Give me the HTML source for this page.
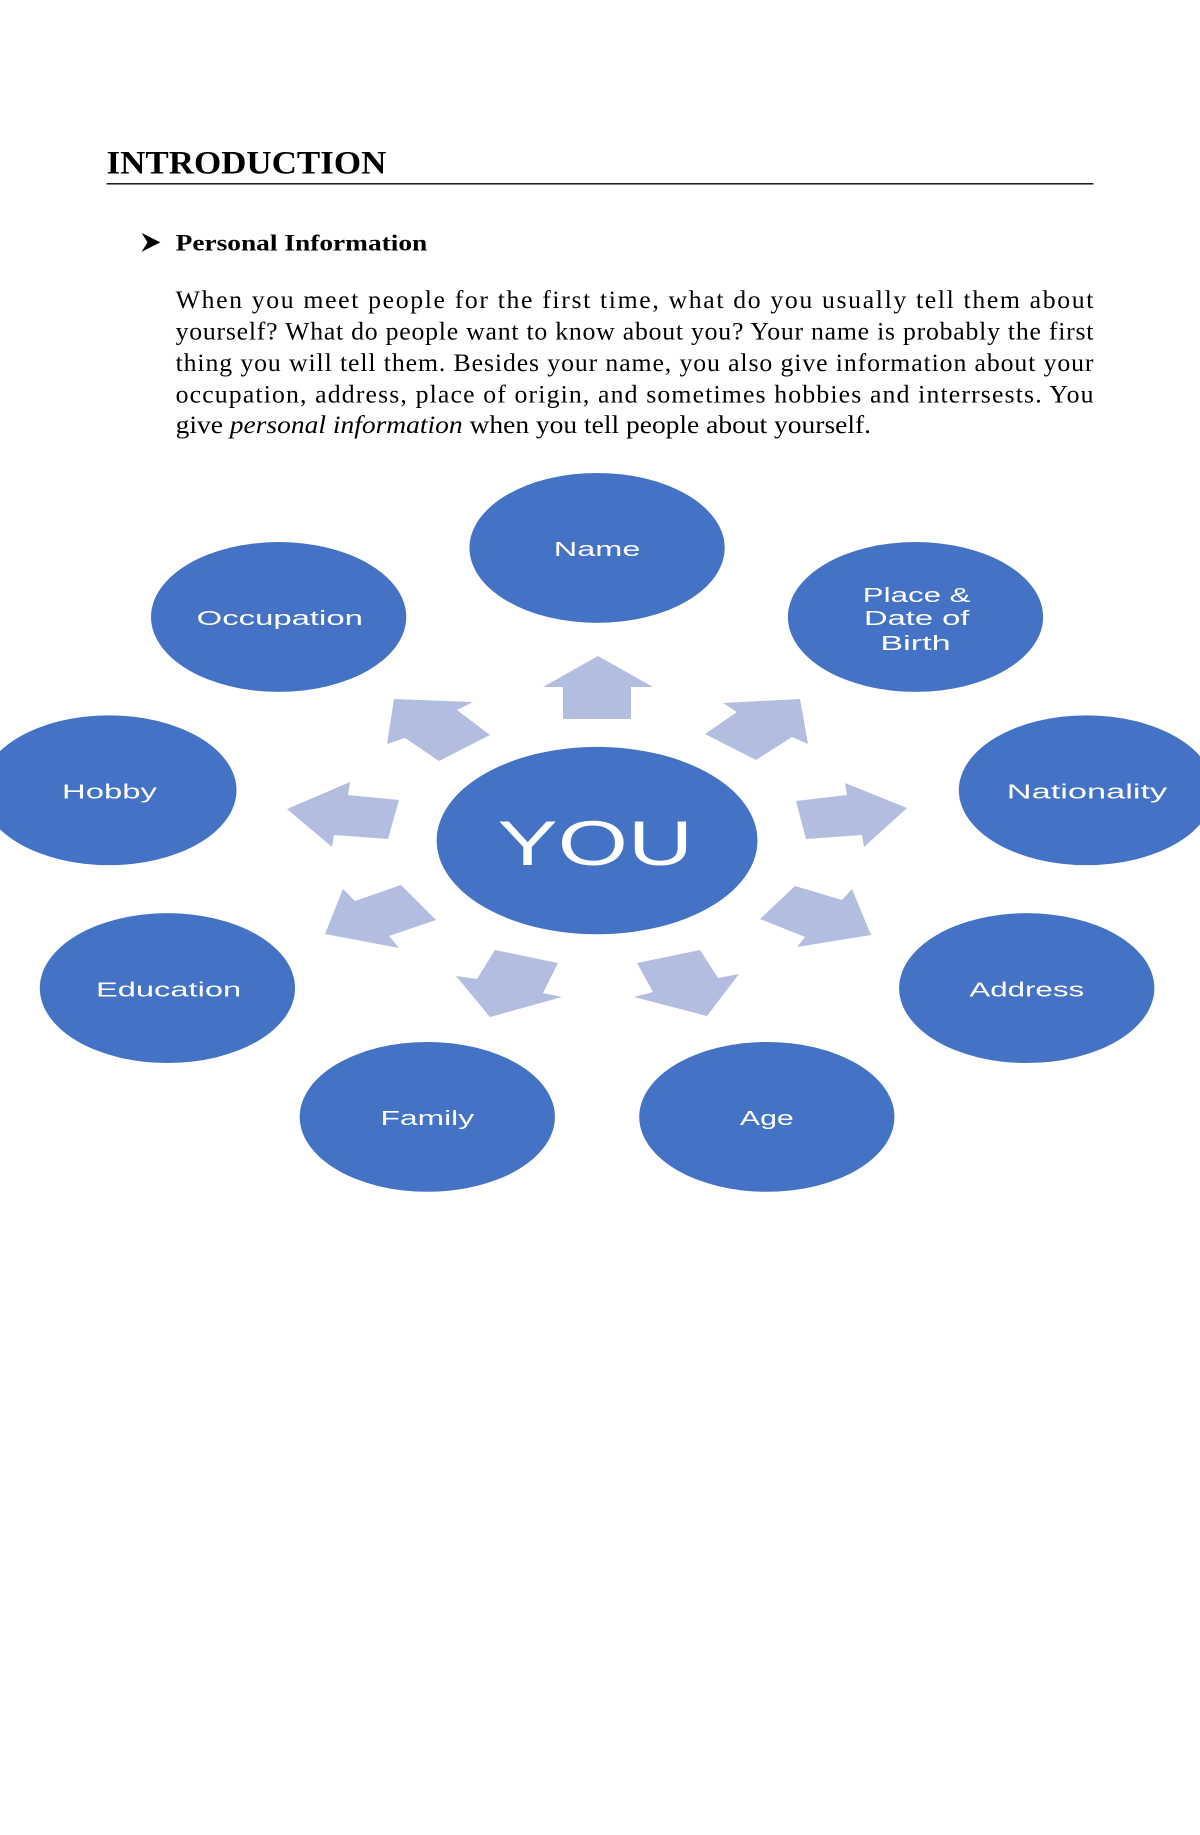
<!DOCTYPE html>
<html><head><meta charset="utf-8"><style>
html,body{margin:0;padding:0;background:#fff;}
svg{display:block;}
</style></head><body>
<svg width="1200" height="1835" viewBox="0 0 1025 1567.4" xmlns="http://www.w3.org/2000/svg">
<text x="91" y="148" font-family="Liberation Serif, serif" font-weight="bold" font-size="28" textLength="239" lengthAdjust="spacingAndGlyphs">INTRODUCTION</text>
<line x1="91" y1="157" x2="934" y2="157" stroke="#000" stroke-width="1.2"/>
<polygon points="121,199 137,207 121,215 126,207" fill="#000"/>
<text x="150" y="214" font-family="Liberation Serif, serif" font-weight="bold" font-size="19.5" textLength="215" lengthAdjust="spacingAndGlyphs">Personal Information</text>
<g font-family="Liberation Serif, serif" font-size="22">
<text x="150" y="263" textLength="784" lengthAdjust="spacing">When you meet people for the first time, what do you usually tell them about</text>
<text x="150" y="290" textLength="784" lengthAdjust="spacing">yourself? What do people want to know about you? Your name is probably the first</text>
<text x="150" y="317" textLength="784" lengthAdjust="spacing">thing you will tell them. Besides your name, you also give information about your</text>
<text x="150" y="344" textLength="784" lengthAdjust="spacing">occupation, address, place of origin, and sometimes hobbies and interrsests. You</text>
<text x="150" y="370" textLength="594" lengthAdjust="spacingAndGlyphs">give <tspan font-style="italic">personal information</tspan> when you tell people about yourself.</text>
</g>
<g fill="#4472c4">
<ellipse cx="510" cy="468" rx="109" ry="64"/>
<ellipse cx="238" cy="527" rx="109" ry="64"/>
<ellipse cx="782" cy="527" rx="109" ry="64"/>
<ellipse cx="93" cy="675" rx="109" ry="64"/>
<ellipse cx="928" cy="675" rx="109" ry="64"/>
<ellipse cx="143" cy="844" rx="109" ry="64"/>
<ellipse cx="877" cy="844" rx="109" ry="64"/>
<ellipse cx="365" cy="954" rx="109" ry="64"/>
<ellipse cx="655" cy="954" rx="109" ry="64"/>
<ellipse cx="510" cy="718" rx="137" ry="80"/>
</g>
<g transform="scale(0.85417)" fill="#b3bde0">
<polygon points="598,656 653,687 631,687 631,719 563,719 563,687 543,687"/>
<polygon points="394,699 473,702 457,710 490,735 439,761 405,738 387,744"/>
<polygon points="723,703 800,699 808,744 792,737 756,760 705,734 737,712"/>
<polygon points="287,809 350,782 348,795 399,800 388,839 334,835 332,847"/>
<polygon points="796,801 847,795 845,783 907,808 864,847 862,835 806,839"/>
<polygon points="343,889 355,901 401,885 436,920 389,936 399,948 325,934"/>
<polygon points="760,919 795,886 842,900 852,889 871,935 797,947 805,937"/>
<polygon points="495,950 558,963 543,993 562,997 490,1017 456,976 477,979"/>
<polygon points="637,963 700,950 718,978 739,974 707,1016 634,997 653,992"/>
</g>
<g font-family="Liberation Sans, sans-serif" font-size="17" fill="#fff">
<text x="473" y="475" textLength="74" lengthAdjust="spacingAndGlyphs">Name</text>
<text x="168" y="534" textLength="142" lengthAdjust="spacingAndGlyphs">Occupation</text>
<text x="737" y="514" textLength="92" lengthAdjust="spacingAndGlyphs">Place &amp;</text>
<text x="738" y="534" textLength="90" lengthAdjust="spacingAndGlyphs">Date of</text>
<text x="752" y="555" textLength="60" lengthAdjust="spacingAndGlyphs">Birth</text>
<text x="53" y="682" textLength="81" lengthAdjust="spacingAndGlyphs">Hobby</text>
<text x="860" y="682" textLength="137" lengthAdjust="spacingAndGlyphs">Nationality</text>
<text x="82" y="851" textLength="124" lengthAdjust="spacingAndGlyphs">Education</text>
<text x="828" y="851" textLength="98" lengthAdjust="spacingAndGlyphs">Address</text>
<text x="325" y="961" textLength="80" lengthAdjust="spacingAndGlyphs">Family</text>
<text x="632" y="961" textLength="46" lengthAdjust="spacingAndGlyphs">Age</text>
</g>
<text x="425" y="739" font-family="Liberation Sans, sans-serif" font-size="54" fill="#fff" textLength="167" lengthAdjust="spacingAndGlyphs">YOU</text>
</svg>
</body></html>
